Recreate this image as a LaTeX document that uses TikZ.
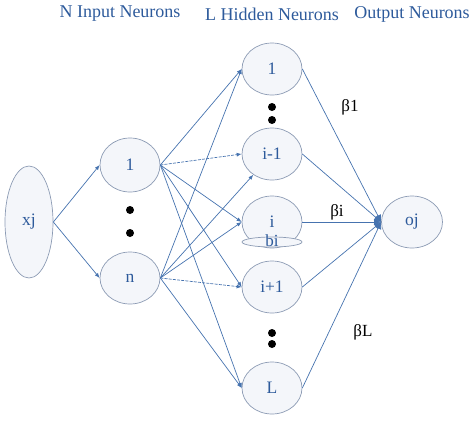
\documentclass[tikz,border=0pt]{standalone}
\usepackage{fontspec}
\setmainfont{Liberation Serif}
\usetikzlibrary{shapes.geometric,arrows.meta}
\definecolor{edgeblue}{RGB}{70,115,175}
\definecolor{nodeline}{RGB}{140,155,180}
\definecolor{txtblue}{RGB}{45,90,155}
\definecolor{nodefill}{RGB}{244,246,250}
\begin{document}
\begin{tikzpicture}[x=1pt,y=-1pt,
  neuron/.style={ellipse,draw=nodeline,line width=0.7pt,fill=nodefill,inner sep=0pt,
    minimum width=60pt,minimum height=52pt,text=txtblue,font=\fontsize{17.5}{19}\selectfont},
  heading/.style={text=txtblue,font=\fontsize{18}{20}\selectfont,inner sep=0pt},
  wlabel/.style={text=black,font=\fontsize{17}{19}\selectfont,inner sep=0pt},
  dotnode/.style={circle,fill=black,inner sep=0pt,minimum size=8pt},
  link/.style={draw=edgeblue,line width=0.7pt,-{Latex[length=5pt,width=4pt]}},
  dlink/.style={link,dash pattern=on 3pt off 1.2pt},
  outlink/.style={draw=edgeblue,line width=0.7pt,-{Latex[length=7pt,width=7pt]}}]
\useasboundingbox (0,0) rectangle (474,424);
% headings
\node[heading] (hin) at (120,14) {N Input Neurons};
\node[heading] (hhid) at (272,14) {L Hidden Neurons};
\node[heading] (hout) at (412,14) {Output Neurons};
% input
\node[neuron,minimum width=48pt,minimum height=112pt] (xj) at (29,222) {xj};
\node[neuron,minimum height=54pt] (in1) at (130,165) {1};
\node[neuron] (inn) at (130,278) {n};
\node[dotnode] (d1) at (130,210) {};
\node[dotnode] (d2) at (130,233) {};
% hidden
\node[neuron] (h1) at (272,69) {1};
\node[dotnode] (d3) at (272,107) {};
\node[dotnode] (d4) at (272,120) {};
\node[neuron] (him) at (272,154) {i-1};
\node[neuron] (hi) at (272,222) {i};
\node[ellipse,draw=nodeline,line width=0.7pt,fill=nodefill,minimum width=60pt,minimum height=10pt,inner sep=0pt] (bi) at (272,242) {};
\node[text=txtblue,font=\fontsize{17}{19}\selectfont,inner sep=0pt] (bitxt) at (272,241) {bi};
\node[neuron] (hip) at (272,287) {i+1};
\node[dotnode] (d5) at (272,333) {};
\node[dotnode] (d6) at (272,344) {};
\node[neuron] (hL) at (272,388) {L};
% output
\node[neuron,minimum width=61pt] (oj) at (412,222) {oj};
% labels
\node[wlabel] (b1) at (350,107) {β1};
\node[wlabel] (bil) at (337,212) {βi};
\node[wlabel] (bL) at (363,332) {βL};
% input edges
\draw[link] (xj.east) -- (in1.west);
\draw[link] (xj.east) -- (inn.west);
% input to hidden
\draw[link] (in1.east) -- (h1.west);
\draw[dlink] (in1.east) -- (him.west);
\draw[link] (in1.east) -- (hi.west);
\draw[link] (in1.east) -- (hip.west);
\draw[link] (in1.east) -- (hL.west);
\draw[link] (inn.east) -- (h1.west);
\draw[link] (inn.east) -- (him);
\draw[link] (inn.east) -- (hi.west);
\draw[dlink] (inn.east) -- (hip.west);
\draw[link] (inn.east) -- (hL.west);
% hidden to output
\draw[outlink] (h1.east) -- (oj.west);
\draw[outlink] (him.east) -- (oj.west);
\draw[outlink] (hi.east) -- (oj.west);
\draw[outlink] (hip.east) -- (oj.west);
\draw[outlink] (hL.east) -- (oj.west);
\end{tikzpicture}
\end{document}
